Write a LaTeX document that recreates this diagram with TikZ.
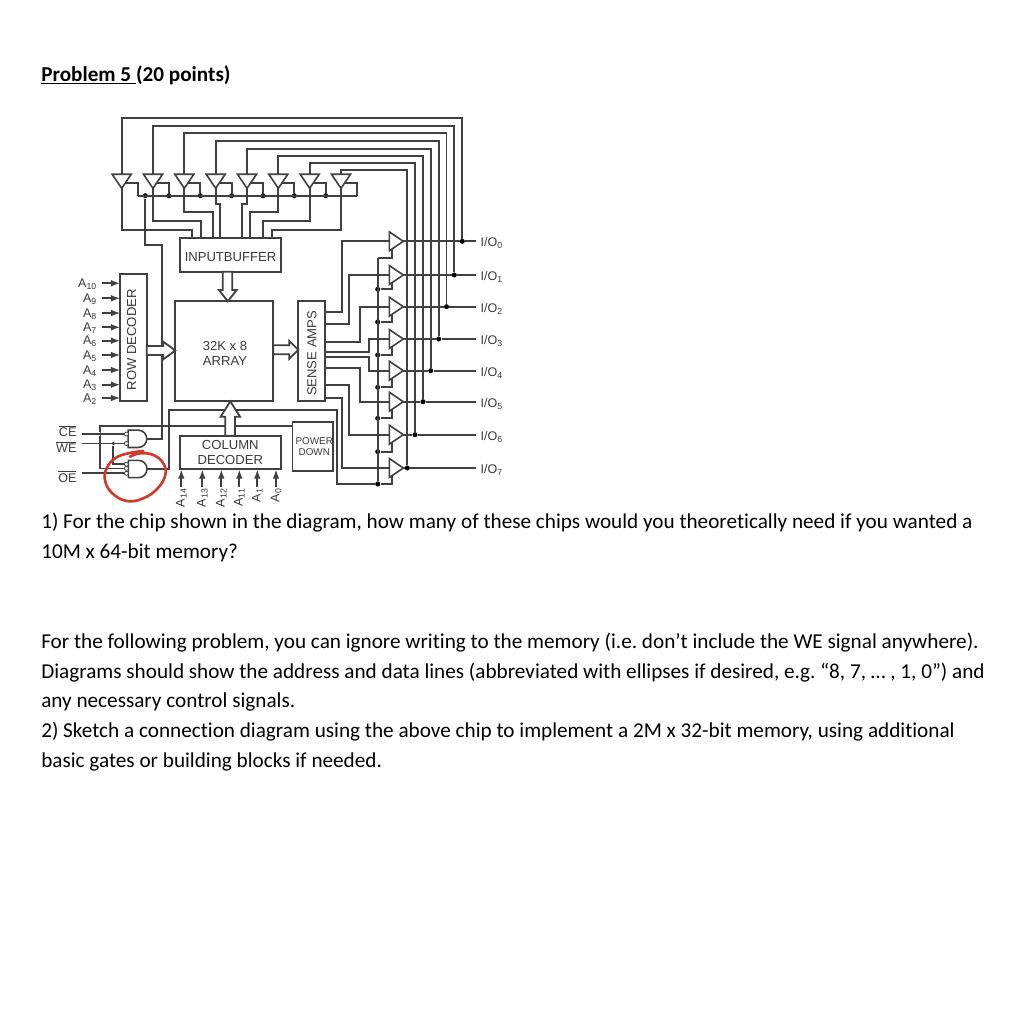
\documentclass[tikz,border=0pt]{standalone}
\usepackage{fontspec}
\setmainfont[Ligatures=CommonOff]{Carlito}
\newfontfamily\chipfont{Liberation Sans}
\usetikzlibrary{arrows.meta,shapes.geometric,shapes.misc}
\definecolor{markred}{HTML}{CF3B2E}
\definecolor{chipink}{HTML}{404040}
\definecolor{chiptext}{HTML}{3C3C3C}
\frenchspacing
\begin{document}
\begin{tikzpicture}[x=0.75pt,y=-0.75pt,
   wire/.style={draw=chipink,line width=1.35pt},
   tribuf/.style={isosceles triangle,isosceles triangle stretches,draw=chipink,line width=1.2pt,
                  inner sep=0pt,outer sep=0pt,minimum width=14.25pt,minimum height=10.5pt},
   junc/.style={circle,fill=black,inner sep=0pt,minimum size=3.8pt},
   blockbox/.style={draw=chipink,line width=1.35pt,inner sep=0pt,outer sep=0pt,align=center,
                    text=chiptext,font=\chipfont\fontsize{9.8}{11.4}\selectfont},
   chiptxt/.style={inner sep=0pt,align=center,text=chiptext,font=\chipfont\fontsize{9.8}{11.4}\selectfont},
   bigarrow/.style={wire,fill=white},
   iolabel/.style={inner sep=0pt,outer sep=3.5pt,text=chiptext,
                   font=\chipfont\fontsize{9.4}{11}\selectfont},
   gatebody/.style={rounded rectangle,rounded rectangle left arc=none,draw=chipink,line width=1.2pt,
                    inner sep=0pt,outer sep=0pt,minimum width=14pt,minimum height=13pt},
   bubble/.style={circle,draw=chipink,fill=white,inner sep=0pt,outer sep=0pt,
                  minimum size=3pt,line width=0.6pt},
   sig/.style={wire,-{Latex[length=7pt,width=5pt]}},
   para/.style={anchor=base west,inner sep=0pt,font=\fontsize{15.9}{18}\selectfont}]
  \path[use as bounding box,fill=white] (0,0) rectangle (1024,1020);

  \node[para,font=\bfseries\fontsize{15.9}{18}\selectfont] (title) at (41,81.2)
    {\underline{Problem 5\ }(20 points)};
  \node[para] (q1a) at (41,528.8) {1) For the chip shown in the diagram, how many of these chips would you theoretically need if you wanted a};
  \node[para] (q1b) at (41,558.4) {10M x 64-bit memory?};
  \node[para] (n1) at (41,648.6) {For the following problem, you can ignore writing to the memory (i.e. don’t include the WE signal anywhere).};
  \node[para] (n2) at (41,678.2) {Diagrams should show the address and data lines (abbreviated with ellipses if desired, e.g. “8, 7, … , 1, 0”) and};
  \node[para] (n3) at (41,707.8) {any necessary control signals.};
  \node[para] (q2a) at (41,737.4) {2) Sketch a connection diagram using the above chip to implement a 2M x 32-bit memory, using additional};
  \node[para] (q2b) at (41,767) {basic gates or building blocks if needed.};

  \node[blockbox,minimum width=76.2pt,minimum height=25pt,text height=10pt,text depth=0pt] (ibuf) at (230.5,255) {INPUTBUFFER};
  \node[blockbox,minimum width=73.5pt,minimum height=75pt] (array) at (224.3,351.3) {};
  \node[chiptxt] (arraytxt) at (225,353.8) {32K x 8\\ARRAY};
  \node[blockbox,minimum width=75.5pt,minimum height=25.2pt] (coldec) at (230.3,452.5) {COLUMN\\DECODER};
  \node[blockbox,rotate=90,minimum width=75.2pt,minimum height=20.25pt] (sa) at (311.8,350.85) {SENSE AMPS\hspace*{3.8pt}};
  \node[blockbox,rotate=90,minimum width=95.5pt,minimum height=19.8pt,text height=7pt,text depth=3pt] (rowdec) at (133.5,337.7) {ROW DECODER\hspace*{3pt}};
  \node[blockbox,minimum width=30pt,minimum height=36.5pt,
        font=\chipfont\fontsize{7.4}{8.4}\selectfont] (pd) at (312.7,446.65) {\hspace*{2.4pt}POWER\\\hspace*{2.4pt}DOWN};

  \foreach \i/\cx in {0/121.7,1/153,2/184.3,3/215.7,4/247,5/278.3,6/309.7,7/341}
    \node[tribuf,shape border rotate=-90,anchor=apex] (in\i) at (\cx,188.3) {};

  \coordinate (bus0) at (137.7,195.7);
  \coordinate (bus7) at (357,195.7);
  \foreach \i/\cx in {1/169,2/200.3,3/231.7,4/263,5/294.3,6/325.7}
    \node[junc] (bus\i) at (\cx,195.7) {};
  \node[junc] (busjn) at (145.3,195.7) {};
  \draw[wire] (bus0) -- (bus7);
  \foreach \i in {0,...,7}
    \draw[wire] ([shift={(3.4,9)}]in\i.lower side) -| (bus\i);

  \foreach \i/\ya/\xb in {0/230/191.7,1/221.3/200.7,2/211.7/213,3/203.7/220.3,
                          4/203.7/242.3,5/211.7/250,6/221.3/262.7,7/230/271.7}
    \draw[wire] (in\i.apex) |- (\xb,\ya) -- (ibuf.north -| \xb,0);

  \foreach \i/\oy/\rx/\ty in {0/241.3/462.3/117.7,1/275/454.3/125.7,2/306.7/446.5/133.3,
                              3/339/438.7/140.7,4/370.7/430.7/149,5/401.7/423/156,
                              6/434.7/415/163.3,7/468/407.3/170}{
    \node[tribuf,anchor=apex] (out\i) at (403.3,\oy) {};
    \node[iolabel,anchor=west] (io\i) at (476,\oy+2) {I/O\textsubscript{\i}};
    \node[junc] (dio\i) at (\rx,\oy) {};
    \draw[wire] (out\i.apex) -- (dio\i) -- (io\i.west |- dio\i);
    \draw[wire] (in\i.lower side) |- (\rx,\ty) -- (dio\i);
  }

  \foreach \i/\sy/\mx in {0/311.7/341.7,1/324.3/349.3,2/341.7/360.3,3/352.3/369.3,
                          4/357.3/369.3,5/368.3/360.3,6/385.3/349.3,7/397.7/342}
    \draw[wire] (sa.south |- 0,\sy) -| (out\i.lower side -| \mx,0) -- (out\i.lower side);

  \coordinate (den0) at (377.7,258);
  \foreach \i/\ey in {1/289.3,2/322,3/355,4/387.3,5/418.3,6/451.7,7/484}
    \node[junc] (den\i) at (377.7,\ey) {};
  \draw[wire] (den0) -- (den7);
  \foreach \i in {0,...,7}
    \draw[wire] (den\i) -| ([shift={(2.7,7.8)}]out\i.lower side);

  \foreach \i/\ay in {10/283.3,9/298.3,8/313,7/327.3,6/340.7,5/355,4/370,3/384.7,2/398}{
    \node[iolabel,outer sep=4pt,anchor=east] (adr\i) at (102.3,\ay+1) {A\textsubscript{\i}};
    \draw[sig] (102.3,\ay) -- (rowdec.north |- 0,\ay);
  }
  \foreach \i/\cx in {14/181.3,13/202.3,12/221.3,11/239.3,1/257.3,0/276}{
    \node[iolabel,outer sep=1pt,rotate=90,anchor=east] (adc\i) at (\cx,487) {A\textsubscript{\i}};
    \draw[sig] (adc\i.east) -- (coldec.south -| adc\i.east);
  }

  \node[gatebody] (gce) at (137.5,438.8) {};
  \node[gatebody] (goe) at (137.7,469) {};
  \node[bubble] (bce) at (126.4,434) {};
  \node[bubble] (bwe) at (126.4,443.5) {};
  \node[bubble] (bo0) at (126.4,464.2) {};
  \node[bubble] (bo1) at (126.4,468.4) {};
  \node[bubble] (bo2) at (126.4,473.3) {};
  \node[iolabel,outer sep=4pt,anchor=east] (lce) at (81.7,431) {$\overline{\mbox{CE}}$};
  \node[iolabel,outer sep=4pt,anchor=east] (lwe) at (81.7,446.7) {$\overline{\mbox{WE}}$};
  \node[iolabel,outer sep=4pt,anchor=east] (loe) at (81.7,476.7) {$\overline{\mbox{OE}}$};
  \node[junc,minimum size=2.6pt] (jce) at (100.3,434) {};
  \node[junc,minimum size=2.6pt] (jwe) at (113.3,443.5) {};
  \draw[wire] (lce.east |- bce) -- (bce);
  \draw[wire] (lwe.east |- bwe) -- (bwe);
  \draw[wire] (loe.east |- bo2) -- (bo2);
  \draw[wire] (jwe) |- (bo0);
  \draw[wire] (pd.west |- 0,426) -| (jce) |- (bo1);
  \draw[wire] (gce.east) -| (161.7,245) -| (busjn);
  \draw[wire] (goe.east) -| (169.3,410) -| (337.3,484) -- (den7);

  \draw[bigarrow] (ibuf.south -| 222.7,0) -- (222.7,290) -- (219,290) -- (array.north -| 227.8,0)
    -- (236.7,290) -- (232.3,290) -- (ibuf.south -| 232.3,0) -- cycle;
  \draw[bigarrow] (rowdec.south |- 0,346) -- (163.3,346) -- (163.3,341.7) -- (array.west |- 0,350.5)
    -- (163.3,359.3) -- (163.3,355) -- (rowdec.south |- 0,355) -- cycle;
  \draw[bigarrow] (array.east |- 0,345.3) -- (289.3,345.3) -- (289.3,341) -- (sa.north |- 0,349.9)
    -- (289.3,358.7) -- (289.3,354.3) -- (array.east |- 0,354.3) -- cycle;
  \draw[bigarrow] (coldec.north -| 225.3,0) -- (225.3,416.7) -- (220.7,416.7) -- (array.south -| 230.3,0)
    -- (240,416.7) -- (235,416.7) -- (coldec.north -| 235,0) -- cycle;

  \draw[markred,line width=2pt,line cap=round] plot[smooth,tension=0.7] coordinates
    {(143.3,451) (128.3,453.3) (115,458.3) (106.7,468.3) (105,480) (111.7,492.7) (126.7,501)
     (143.3,498.3) (157.7,488.3) (165.3,475) (163.3,463.3) (153.3,455) (140,453.3) (130,456.7)};
\end{tikzpicture}
\end{document}
